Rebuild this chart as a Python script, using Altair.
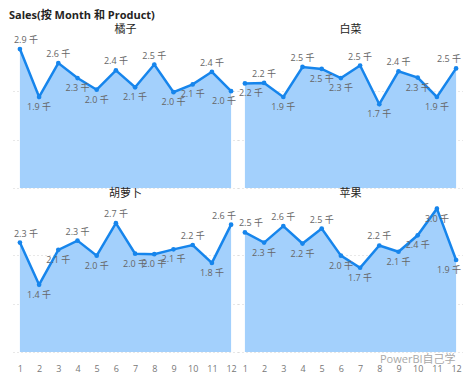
import altair as alt
import pandas as pd

months = list(range(1, 13))
products = ["橘子", "白菜", "胡萝卜", "苹果"]
orange = [2870, 1880, 2580, 2270, 2030, 2430, 2080, 2550, 1980, 2140, 2400, 2000]
cabbage = [2160, 2170, 1880, 2500, 2460, 2270, 2530, 1730, 2410, 2280, 1880, 2470]
carrot = [2260, 1390, 2110, 2300, 1990, 2660, 2030, 2020, 2120, 2210, 1840, 2630]
apple = [2470, 2260, 2600, 2240, 2550, 1990, 1740, 2200, 2070, 2410, 2960, 1900]
series = [orange, cabbage, carrot, apple]

rows = []
for name, vals in zip(products, series):
    n = len(vals)
    for i, v in enumerate(vals):
        prev_v = vals[i - 1] if i > 0 else None
        next_v = vals[i + 1] if i < n - 1 else None
        neigh = [x for x in (prev_v, next_v) if x is not None]
        above = v >= max(neigh) and v <= 2900
        rows.append({"product": name, "month": months[i], "sales": v, "above": above})
df = pd.DataFrame(rows)

FONT = "Open Sans, Noto Sans CJK SC, sans-serif"
LINE = "#1685EC"
AREA = "#A3D0FC"

x_enc = alt.X("month:Q", scale=alt.Scale(domain=[0.64, 12.36], nice=False, zero=False),
              axis=alt.Axis(values=months, title=None, ticks=False, domain=False, grid=False,
                            labelColor="#777777", labelFontSize=9, labelPadding=12, labelFont=FONT))
y_enc = alt.Y("sales:Q", scale=alt.Scale(domain=[0, 3160], nice=False),
              axis=alt.Axis(values=[0, 1000, 2000], title=None, labels=False, ticks=False,
                            domain=False, grid=True, gridColor="#d0d0d0", gridDash=[1, 3],
                            minExtent=0, maxExtent=0, labelPadding=0))

base = alt.Chart().encode(x=x_enc, y=y_enc)
area = base.mark_area(color=AREA, opacity=1)
line = base.mark_line(color=LINE, strokeWidth=2.5)
pts = base.mark_point(color=LINE, filled=True, size=22, opacity=1)
label_expr = "format(datum.sales/1000, '.1f') + ' 千'"

texts = []
for pos_filter, dy in (("datum.above", -9), ("!datum.above", 10)):
    for m_filter, align, dx in (("datum.month == 1", "left", -6),
                                ("datum.month > 1 && datum.month < 12", "center", 0),
                                ("datum.month == 12", "right", 5)):
        texts.append(
            base.mark_text(fontSize=9, color="#666666", dy=dy, dx=dx, align=align, font=FONT)
            .encode(text="lbl:N")
            .transform_calculate(lbl=label_expr)
            .transform_filter(pos_filter)
            .transform_filter(m_filter)
        )

mark = alt.Chart().mark_text(fontSize=11, color="#9a9a9a", opacity=0.85, font=FONT, align="left").encode(
    x=alt.value(142), y=alt.value(161), text=alt.value("PowerBI自己学")
).transform_filter("datum.product == '苹果' && datum.month == 12")

layer = alt.layer(area, line, pts, *texts, mark, data=df).properties(width=225, height=153)

chart = layer.facet(
    facet=alt.Facet("product:N", sort=products, title=None,
                    header=alt.Header(labelFontSize=11, labelColor="#252423", labelPadding=0,
                                      labelFont=FONT)),
    columns=2,
    spacing={"row": 11, "column": 0},
    bounds="flush",
).properties(
    title=alt.TitleParams("Sales(按 Month 和 Product)", anchor="start", fontSize=11,
                          fontWeight="bold", color="#252423", font=FONT, dx=-4, offset=3),
    padding={"left": 1, "top": 2, "right": 0, "bottom": 0},
).configure_view(stroke=None)

chart.save("out.html", embed_options={"renderer": "svg", "actions": False})
